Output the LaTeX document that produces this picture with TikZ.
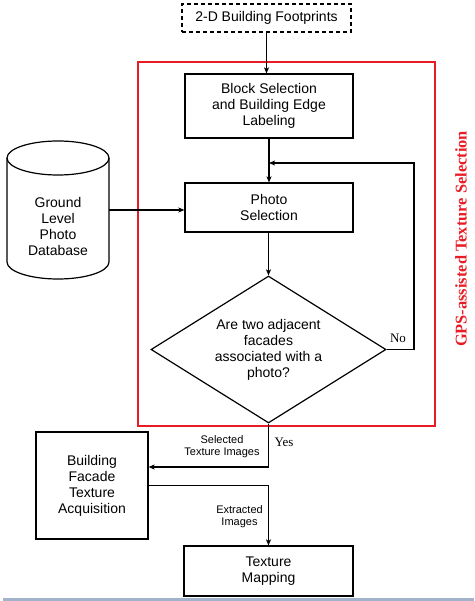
\documentclass[tikz,border=0pt]{standalone}
\usepackage{fontspec}
\setmainfont{Liberation Sans}
\newfontfamily\serifrm{Liberation Serif}
\usetikzlibrary{shapes.geometric,arrows.meta}
\definecolor{redc}{RGB}{232,28,36}
\definecolor{bluebar}{RGB}{163,179,204}
\begin{document}
\begin{tikzpicture}[x=1pt,y=-1pt,
  >={Stealth[length=6pt,width=5pt,inset=1.5pt]},
  txt/.style={font=\fontsize{14}{16}\selectfont,align=center},
  box/.style={draw,line width=1.2pt,txt,inner sep=0pt},
  conn/.style={line width=1.2pt},
  small/.style={font=\fontsize{11}{12}\selectfont,align=center,inner sep=0pt},
  yn/.style={font=\serifrm\fontsize{13}{15}\selectfont,inner sep=0pt}]
\useasboundingbox (0,0) rectangle (474,601);
\fill[bluebar] (3,598) rectangle (474,601);
% group frame
\node[draw=redc,line width=1.8pt,minimum width=297pt,minimum height=364pt,inner sep=0pt] (grp) at (286.5,244) {};
\node[rotate=90,text=redc,font=\serifrm\bfseries\fontsize{16.4}{18}\selectfont,inner sep=0pt] (grplabel) at (461,239) {GPS-assisted Texture Selection};
% boxes
\node[box,dash pattern=on 4pt off 3pt,minimum width=169pt,minimum height=28pt] (fp) at (266.5,18) {2-D Building Footprints};
\node[box,minimum width=168pt,minimum height=64pt] (blk) at (269,106) {Block Selection\\and Building Edge\\Labeling};
\node[box,minimum width=168pt,minimum height=49pt] (photo) at (269,207.5) {Photo\\Selection};
\node[diamond,draw,line width=1.2pt,txt,aspect=1.6,inner sep=0pt,minimum width=235pt,minimum height=147pt] (dia) at (268.5,349.5) {Are two adjacent\\facades\\associated with a\\photo?};
\node[box,minimum width=112pt,minimum height=107pt] (bfa) at (92,485.5) {Building\\Facade\\Texture\\Acquisition};
\node[box,minimum width=169pt,minimum height=50pt] (tm) at (268.5,571) {Texture\\Mapping};
% database cylinder
\draw[line width=1.2pt] (7,158) -- (7,262) arc[start angle=180,end angle=0,x radius=51,y radius=17] -- (109,158);
\draw[line width=1.2pt] (58,158) ellipse [x radius=51,y radius=17];
\node[txt,inner sep=0pt] (db) at (58,226) {Ground\\Level\\Photo\\Database};
\coordinate (dbe) at (109,210);
% connectors
\draw[conn,->] (fp.south) -- (fp.south |- blk.north);
\draw[conn,->] (blk.south) -- (blk.south |- photo.north);
\draw[conn,->] (photo.south) -- (photo.south -| dia.north) -- (dia.north);
\coordinate (noc) at (414,349.5);
\coordinate (fb) at (269,163);
\draw[conn,->] (dia.east) -- (noc) |- (fb);
\draw[conn,->] (dbe) -- (dbe -| photo.west);
\coordinate (yesc) at (268.5,467);
\draw[conn,->] (dia.south) -- (yesc) -- (yesc -| bfa.east);
\draw[conn,->] (bfa.east) -| (tm.north);
% labels
\node[yn] (nolab) at (398,338) {No};
\node[yn] (yeslab) at (284,442) {Yes};
\node[small] (sel) at (222,447) {Selected\\Texture Images};
\node[small] (ext) at (239.5,517) {Extracted\\Images};
\end{tikzpicture}
\end{document}
